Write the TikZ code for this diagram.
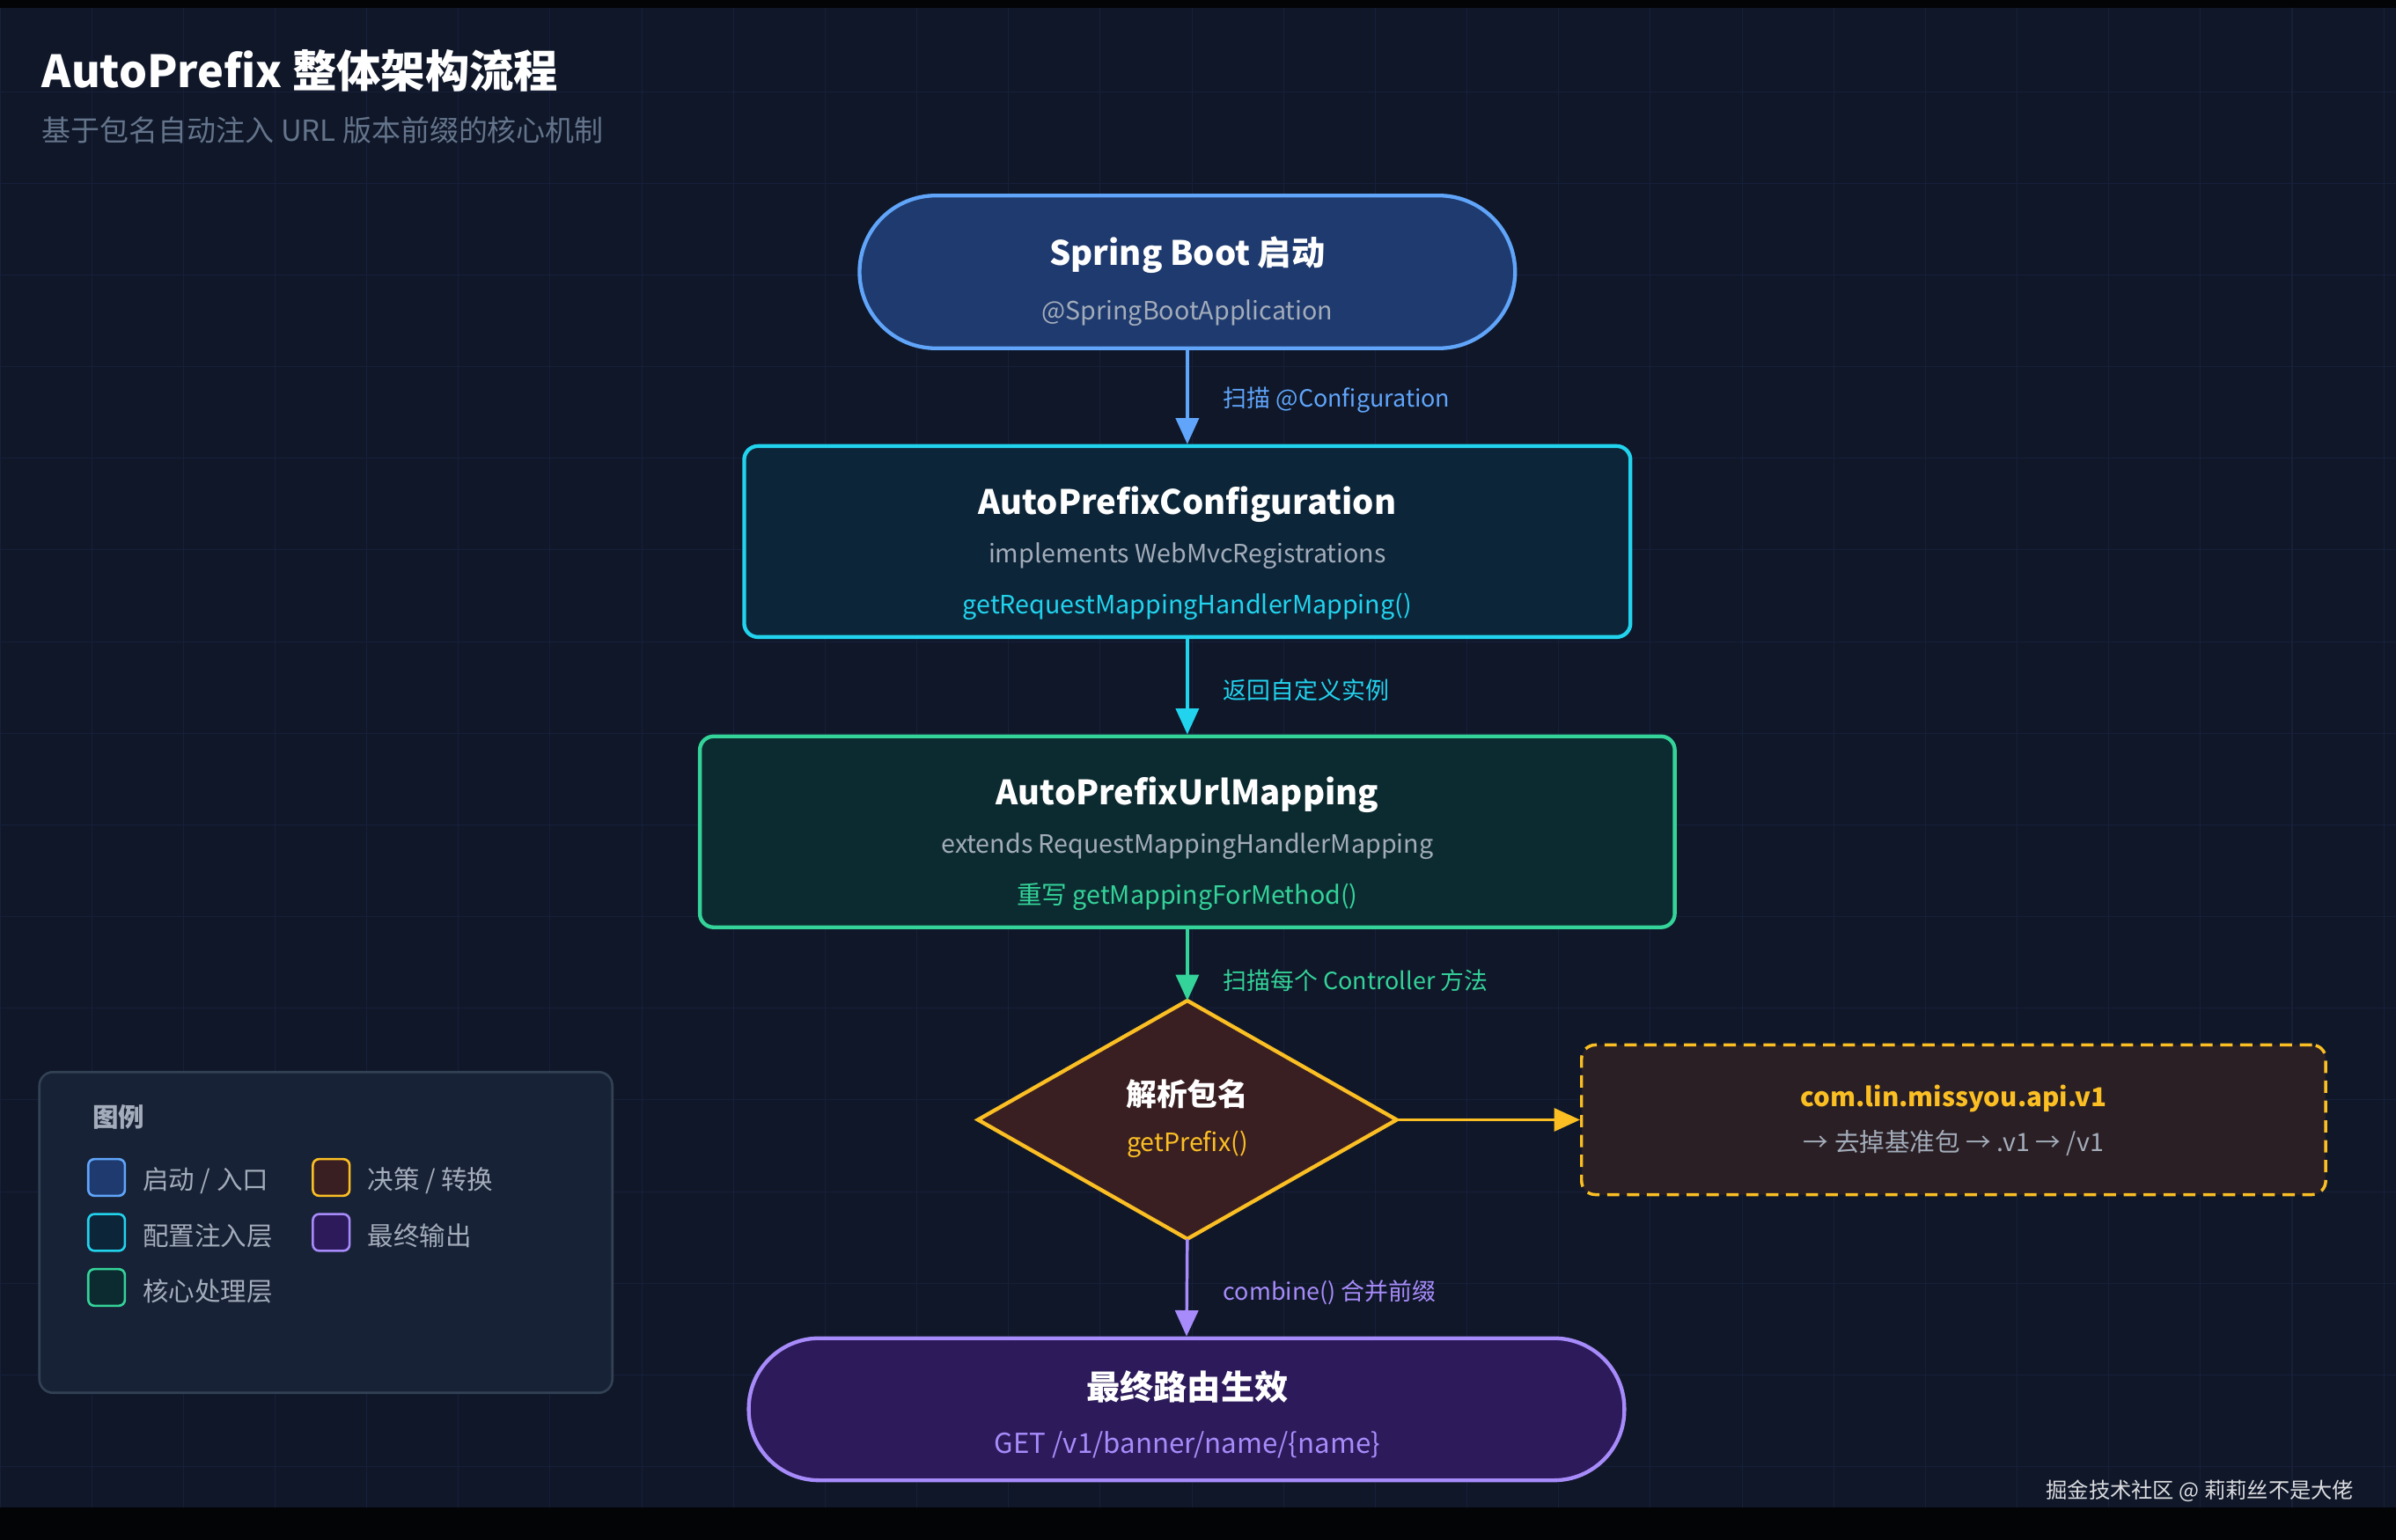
\documentclass[tikz,border=0pt]{standalone}
\usepackage{fontspec}
\setmainfont{Noto Sans CJK SC}
\usetikzlibrary{shapes.geometric,arrows.meta}
\definecolor{bg}{HTML}{0F1729}
\definecolor{gridc}{HTML}{16203A}
\definecolor{bblue}{HTML}{60A5FA}\definecolor{fblue}{HTML}{1E3A6E}
\definecolor{bcyan}{HTML}{22D3EE}\definecolor{fcyan}{HTML}{0C2538}
\definecolor{bgreen}{HTML}{34D399}\definecolor{fgreen}{HTML}{0C2B30}
\definecolor{byel}{HTML}{FBBF24}\definecolor{fyel}{HTML}{3A1F22}\definecolor{fyel2}{HTML}{2A1F24}
\definecolor{bpur}{HTML}{A78BFA}\definecolor{fpur}{HTML}{2C1A5A}
\definecolor{gtxt}{HTML}{A3ACBA}\definecolor{dtxt}{HTML}{64748B}
\definecolor{legf}{HTML}{172236}\definecolor{legb}{HTML}{334155}
\begin{document}
\begin{tikzpicture}[x=1pt,y=-1pt,
 tt/.style={font=\fontsize{22}{26}\selectfont\bfseries,text=white},
 st/.style={font=\fontsize{16.5}{20}\selectfont},
 lb/.style={font=\fontsize{15.5}{19}\selectfont,anchor=west},
 arr/.style={line width=2pt,-{Triangle[length=17pt,width=15pt]}},
 lsq/.style={draw,line width=1.5pt,rounded corners=4pt,minimum size=24pt,inner sep=0pt,anchor=north west},
 lt/.style={font=\fontsize{17}{20}\selectfont,text=gtxt,anchor=west}]
\useasboundingbox (0,0) rectangle (1568,1008);
\fill[bg] (0,0) rectangle (1568,1008);
\foreach \x in {0,60,...,1560} \draw[gridc,line width=0.6pt] (\x,0)--(\x,1008);
\foreach \y in {0,60,...,1000} \draw[gridc,line width=0.6pt] (0,\y)--(1568,\y);
\fill[black!85!bg] (0,0) rectangle (1568,5);
\fill[black!85!bg] (0,987) rectangle (1568,1008);
\node[anchor=west,text=white,font=\fontsize{29}{34}\selectfont\bfseries] (title) at (24,46) {AutoPrefix 整体架构流程};
\node[anchor=west,text=dtxt,font=\fontsize{19}{22}\selectfont] (sub) at (24,85) {基于包名自动注入 URL 版本前缀的核心机制};
% start
\node[draw=bblue,fill=fblue,line width=2.5pt,rounded corners=50pt,minimum width=429pt,minimum height=100pt] (start) at (777,178) {};
\node[tt] (s1) at (777,167) {Spring Boot 启动};
\node[st,text=gtxt] (s2) at (777,205) {@SpringBootApplication};
% config
\node[draw=bcyan,fill=fcyan,line width=2.5pt,rounded corners=9pt,minimum width=580pt,minimum height=125pt] (cfg) at (777,354.5) {};
\node[tt] at (777,330) {AutoPrefixConfiguration};
\node[st,text=gtxt] at (777,364) {implements WebMvcRegistrations};
\node[st,text=bcyan] at (777,397) {getRequestMappingHandlerMapping()};
% mapping
\node[draw=bgreen,fill=fgreen,line width=2.5pt,rounded corners=9pt,minimum width=638pt,minimum height=125pt] (map) at (777,544.5) {};
\node[tt] at (777,520) {AutoPrefixUrlMapping};
\node[st,text=gtxt] at (777,554) {extends RequestMappingHandlerMapping};
\node[st,text=bgreen] at (777,587) {重写 getMappingForMethod()};
% diamond
\draw[byel,fill=fyel,line width=2.5pt] (777,655)--(914,733)--(777,811)--(640,733)--cycle;
\coordinate (dtop) at (777,655);\coordinate (dright) at (914,733);\coordinate (dbot) at (777,811);
\node[tt,font=\fontsize{20}{24}\selectfont\bfseries] at (777,716) {解析包名};
\node[st,text=byel] at (777,749) {getPrefix()};
% dashed box
\node[draw=byel,fill=fyel2,line width=2pt,dash pattern=on 8pt off 5pt,rounded corners=9pt,minimum width=487pt,minimum height=98pt] (note) at (1278.5,733) {};
\node[font=\fontsize{17}{20}\selectfont\bfseries,text=byel] at (1278.5,719) {com.lin.missyou.api.v1};
\node[st,text=gtxt] at (1278.5,748) {→ 去掉基准包 → .v1 → /v1};
% end
\node[draw=bpur,fill=fpur,line width=2.5pt,rounded corners=46pt,minimum width=573pt,minimum height=93pt] (fin) at (776.5,922.5) {};
\node[tt] at (777,908) {最终路由生效};
\node[st,text=bpur,font=\fontsize{18}{22}\selectfont] at (777,946) {GET /v1/banner/name/\{name\}};
% arrows
\draw[arr,bblue] (start.south)--(cfg.north);
\node[lb,text=bblue] at (797,262) {扫描 @Configuration};
\draw[arr,bcyan] (cfg.south)--(map.north);
\node[lb,text=bcyan] at (797,452) {返回自定义实例};
\draw[arr,bgreen] (map.south)--(dtop);
\node[lb,text=bgreen] at (797,642) {扫描每个 Controller 方法};
\draw[arr,byel] (dright)--(note.west);
\draw[arr,bpur] (dbot)--(fin.north);
\node[lb,text=bpur] at (797,846) {combine() 合并前缀};
% legend
\node[draw=legb,fill=legf,line width=1.5pt,rounded corners=9pt,minimum width=375pt,minimum height=210pt,anchor=north west] (leg) at (25,701) {};
\node[anchor=west,text=gtxt,font=\fontsize{17}{20}\selectfont\bfseries] at (57,731) {图例};
\node[lsq,draw=bblue,fill=fblue] (l1) at (57,758) {};\node[lt] at (90,773) {启动 / 入口};
\node[lsq,draw=bcyan,fill=fcyan] (l2) at (57,794) {};\node[lt] at (90,809) {配置注入层};
\node[lsq,draw=bgreen,fill=fgreen] (l3) at (57,830) {};\node[lt] at (90,845) {核心处理层};
\node[lsq,draw=byel,fill=fyel] (l4) at (204,758) {};\node[lt] at (237,773) {决策 / 转换};
\node[lsq,draw=bpur,fill=fpur] (l5) at (204,794) {};\node[lt] at (237,809) {最终输出};
\node[anchor=east,text=white!85!bg,font=\fontsize{14}{17}\selectfont] (wm) at (1544,976) {掘金技术社区 @ 莉莉丝不是大佬};
\end{tikzpicture}
\end{document}
